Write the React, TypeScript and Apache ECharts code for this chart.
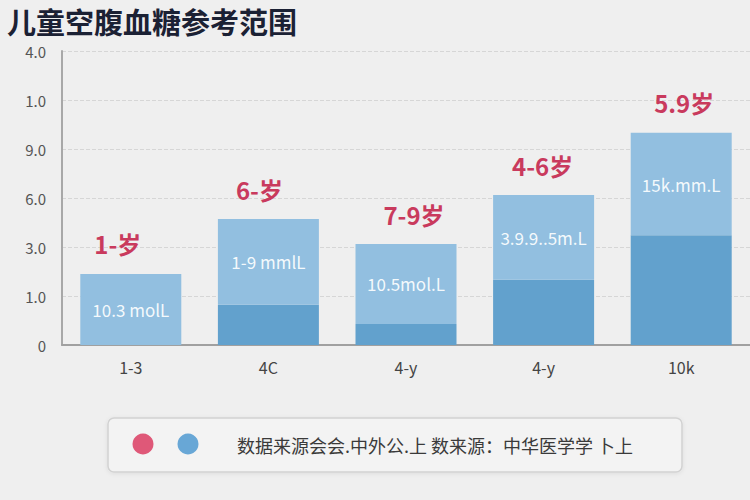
import { useRef, useEffect } from "react"
import * as echarts from "echarts"

const categories = ["1-3", "4C", "4-y", "4-y", "10k"]
const yTickLabels = ["0", "1.0", "3.0", "6.0", "9.0", "1.0", "4.0"]
const baseValues = [0, 0.82, 0.43, 1.33, 2.24]
const upperValues = [1.45, 1.75, 1.63, 1.73, 2.09]
const innerLabels = ["10.3 molL", "1-9 mmlL", "10.5mol.L", "3.9.9..5m.L", "15k.mm.L"]
const ageLabels = ["1-岁", "6-岁", "7-9岁", "4-6岁", "5.9岁"]
const ageOffsets = [-13, -9, 8, -1, 3]
const legendText = "数据来源会会.中外公.上 数来源：中华医学学 卜上"

export default function App() {
  const chartRef = useRef<HTMLDivElement>(null)

  useEffect(() => {
    if (!chartRef.current) return
    const chart = echarts.init(chartRef.current, null, { renderer: "svg" })

    const option = {
      animation: false,
      backgroundColor: "#efefef",
      textStyle: { fontFamily: "'Noto Sans CJK SC', 'Noto Sans', sans-serif" },
      title: {
        text: "儿童空腹血糖参考范围",
        left: 7,
        top: 5,
        padding: 0,
        textStyle: { fontSize: 29, lineHeight: 32, fontWeight: "bold", color: "#1b2134" },
      },
      grid: { left: 62, right: 0, top: 51, bottom: 155 },
      xAxis: [
        {
          type: "category",
          data: categories,
          axisLine: { lineStyle: { color: "#a0a0a0", width: 2 } },
          axisTick: { lineStyle: { color: "#a0a0a0" }, length: 6 },
          axisLabel: { fontSize: 16, color: "#444", margin: 14 },
        },
        {
          type: "category",
          data: categories,
          position: "bottom",
          axisLine: { show: false },
          axisTick: { alignWithLabel: true, lineStyle: { color: "#a0a0a0" }, length: 8 },
          axisLabel: { show: false },
        },
      ],
      yAxis: {
        type: "value",
        min: 0,
        max: 6,
        interval: 1,
        axisLine: { show: true, lineStyle: { color: "#a8a8a8", width: 2 } },
        axisLabel: {
          fontSize: 15,
          color: "#555",
          margin: 16,
          formatter: (v: number) => yTickLabels[Math.round(v)] ?? "",
        },
        splitLine: { lineStyle: { color: "#d6d6d6", type: "dashed" } },
      },
      series: [
        {
          type: "bar",
          stack: "g",
          barWidth: 101,
          data: baseValues,
          itemStyle: { color: "#62a1cd" },
        },
        {
          type: "bar",
          stack: "g",
          barWidth: 101,
          data: upperValues.map((v, i) => ({
            value: v,
            label: {
              show: true,
              position: "inside",
              formatter: innerLabels[i],
              fontSize: 17,
              color: "rgba(255,255,255,0.92)",
            },
          })),
          itemStyle: { color: "#92bfe0" },
        },
        {
          type: "bar",
          stack: "g",
          barWidth: 101,
          data: upperValues.map((_, i) => ({
            value: 0,
            label: {
              show: true,
              position: "top",
              distance: 18,
              offset: [ageOffsets[i], 0],
              formatter: ageLabels[i],
              fontSize: 24,
              fontWeight: "bold",
              color: "#c93a5d",
            },
          })),
          itemStyle: { color: "transparent" },
        },
      ],
      graphic: [
        {
          type: "rect",
          shape: { x: 108, y: 418, width: 574, height: 54, r: 6 },
          style: {
            fill: "#f3f3f3",
            stroke: "#d2d2d2",
            lineWidth: 1.5,
            shadowBlur: 4,
            shadowColor: "rgba(0,0,0,0.08)",
            shadowOffsetY: 1,
          },
        },
        { type: "circle", shape: { cx: 143, cy: 444, r: 10.5 }, style: { fill: "#df5878" } },
        { type: "circle", shape: { cx: 188, cy: 444, r: 10.5 }, style: { fill: "#68a7d6" } },
        {
          type: "text",
          x: 237,
          y: 445,
          style: {
            text: legendText,
            fontSize: 18,
            fill: "#3a3a3a",
            verticalAlign: "middle",
            fontFamily: "'Noto Sans CJK SC', sans-serif",
          },
        },
      ],
    }

    chart.setOption(option)
    return () => chart.dispose()
  }, [])

  return (
    <div
      ref={chartRef}
      style={{ position: "fixed", left: 0, top: 0, width: 750, height: 500 }}
    />
  )
}
